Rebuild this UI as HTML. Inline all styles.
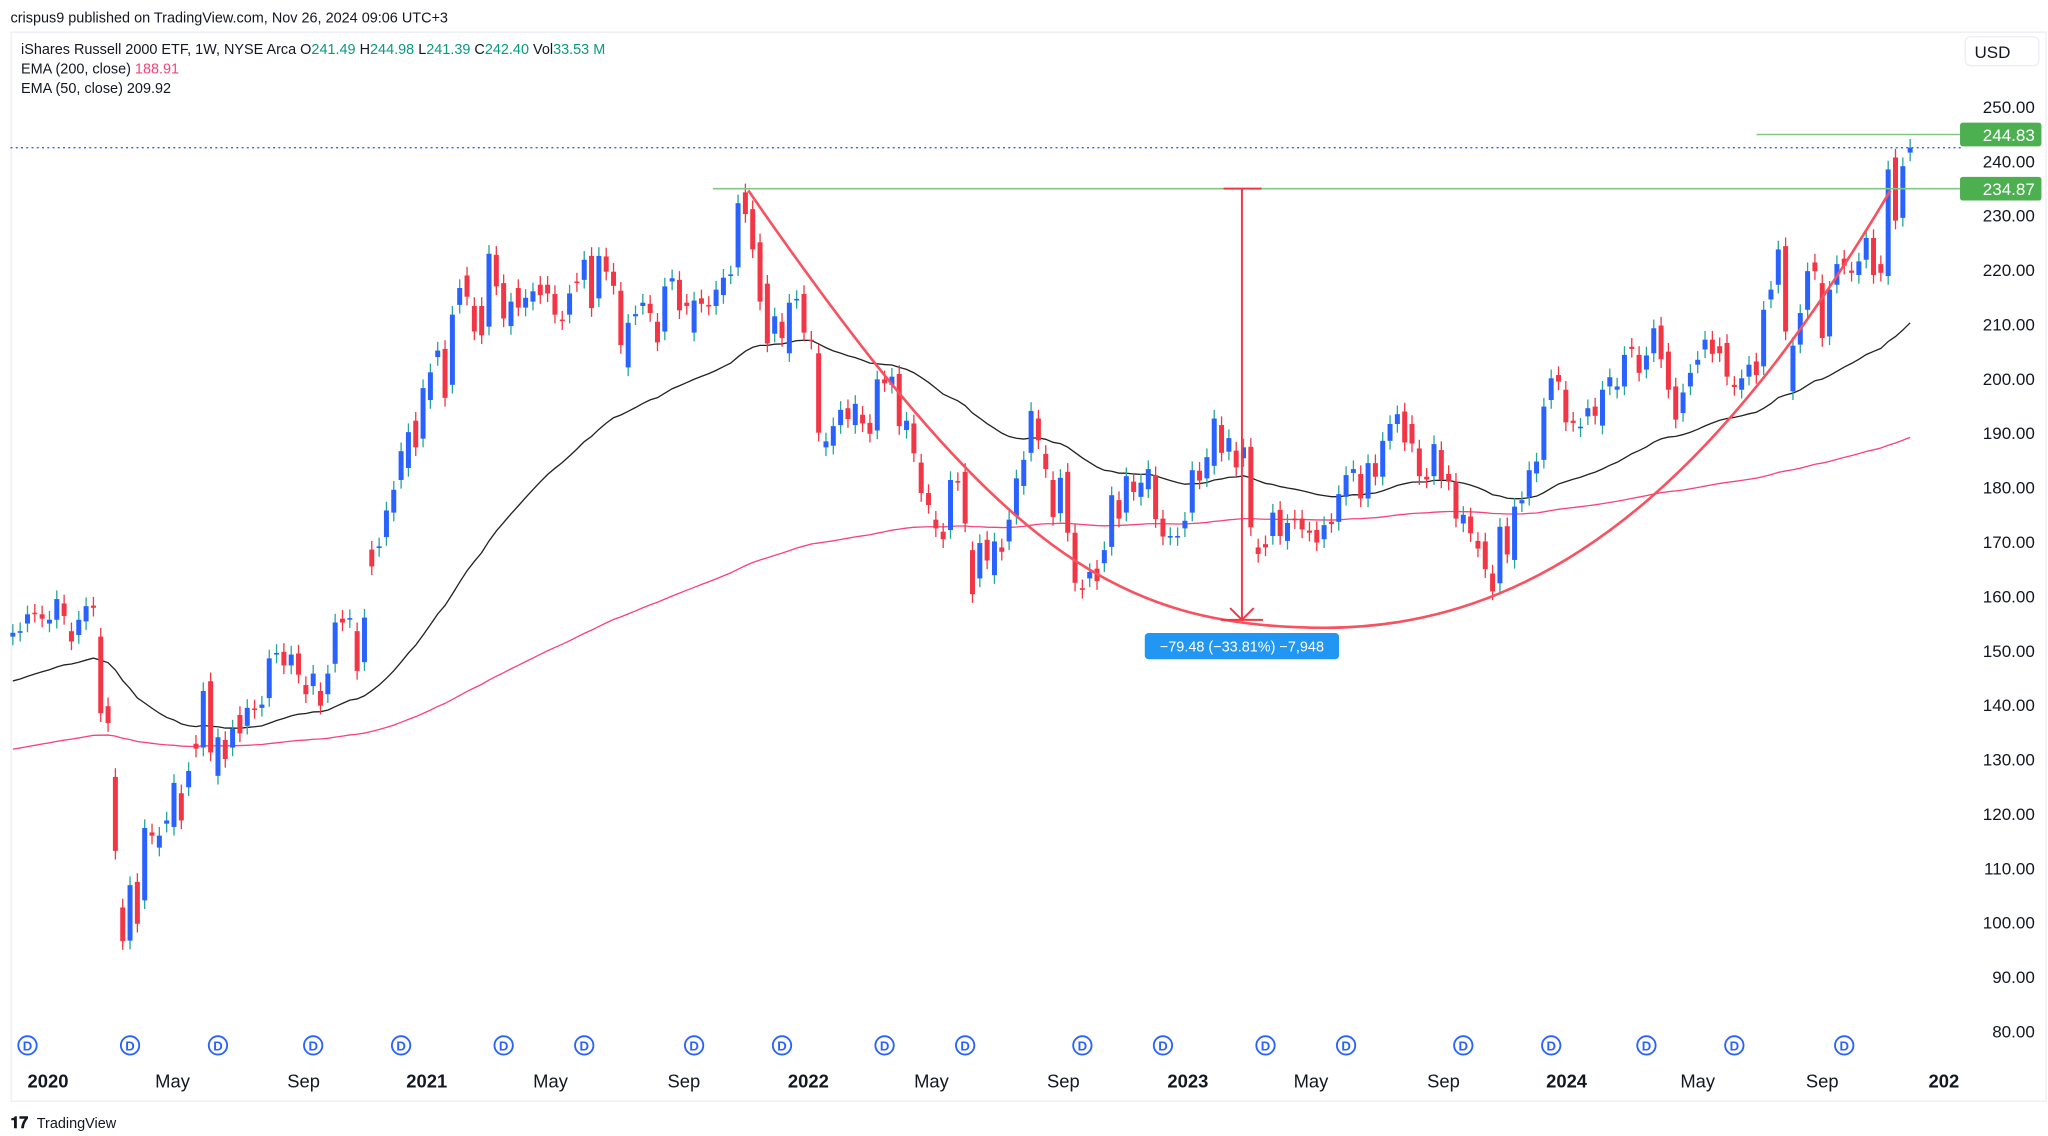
<!DOCTYPE html>
<html><head><meta charset="utf-8"><style>
html,body{margin:0;padding:0;background:#fff;}
svg{display:block;}
text{font-family:"Liberation Sans",sans-serif;}
</style></head><body>
<svg id="chart" width="2048" height="1136" viewBox="0 0 1560 865" preserveAspectRatio="none" xmlns="http://www.w3.org/2000/svg">
<rect x="0" y="0" width="1560" height="865" fill="#fff"/>
<text x="8" y="17" font-size="11" fill="#131722">crispus9 published on TradingView.com, Nov 26, 2024 09:06 UTC+3</text>
<rect x="8.5" y="24.5" width="1550" height="814" fill="none" stroke="#eceef2"/>
<g id="grid"></g>
<g id="lines"></g>
<g id="candles"></g>
<g id="annot"></g>
<g font-size="11" fill="#131722">
<text x="16" y="41">iShares Russell 2000 ETF, 1W, NYSE Arca  O<tspan fill="#089981">241.49</tspan>  H<tspan fill="#089981">244.98</tspan>  L<tspan fill="#089981">241.39</tspan>  C<tspan fill="#089981">242.40</tspan>  Vol<tspan fill="#089981">33.53 M</tspan></text>
<text x="16" y="56">EMA (200, close)  <tspan fill="#f7437a">188.91</tspan></text>
<text x="16" y="71">EMA (50, close)  <tspan>209.92</tspan></text>
</g>
<rect x="1497" y="28" width="56" height="22" rx="4" fill="#fff" stroke="#eceef2"/>
<text x="1504" y="44" font-size="13" fill="#131722">USD</text>
<g id="axes"></g>
<g>
<text x="8" y="859" font-size="12" font-weight="bold" fill="#131722">𝟏𝟕</text>
<text x="28" y="859" font-size="11" fill="#131722">TradingView</text>
</g>
</svg>
<script>
const opens=[152.5,153.2,154.9,156.9,156.6,154.9,155.6,158.6,153.5,152.8,155.3,158.2,152.5,139.7,126.7,102.7,96.6,107.4,104,116.5,113.7,118.1,117.5,123.7,124.8,132.8,132.1,144.3,126.9,133.5,132.1,138.1,136.1,139.3,139.4,141.2,149.2,149.7,147.2,149.4,143.6,143.4,142.5,141.9,147.5,155.8,155.7,153.5,147.8,168.5,168.8,170.8,175.3,181.3,183.5,192.2,188.9,196,203.9,205.4,198.8,213.5,218.9,213.3,213.3,209.5,222.7,217.5,209.6,216.6,213,214.1,217.2,217.2,215.5,210.8,211.7,217.8,218.1,222.5,214.7,222.4,219.6,216.1,202,211.4,213.3,213.7,210.4,208.6,217.8,218.1,213.9,208.4,214.7,213.5,213.3,215.3,218.9,220.4,234.2,231.1,225,217.4,208.2,210.4,204.6,214.4,215.5,207.1,204.6,187.3,187.6,191.4,194.5,191.4,193.3,191.8,190.4,199.8,198.8,200.8,190.5,191.7,184.5,178.9,174,171.8,172.1,181.1,182.8,168.4,163.2,170.3,163.8,168.9,170,174.7,180.2,186.3,192.6,186.1,181.3,175.2,182.8,171.6,161.4,163.2,165,166,169,177.6,175.3,181,178.2,179.6,182.2,174.2,170.9,170.8,172.4,175.3,183,181.6,183.9,191.4,186.5,186.7,185.3,187.4,168.9,169.5,171,175.8,170.1,174.2,174.2,172,172.1,170.4,173.6,173.6,178.2,182.6,182.4,177.9,184.4,181.9,188.5,191.6,193.9,191.6,187.1,181.9,182,186.8,182.4,181,173.3,174.6,170.1,170,164.1,162.3,172.8,166.6,177,178.2,182.5,185,196,200.6,197.9,192.2,190.8,193,194.8,191.3,198.5,197.9,198.5,205.8,204.3,201.6,204.6,209.7,204.9,198.5,193.6,198.5,202.5,205.3,207.1,205.9,206.5,198.8,197.9,200.3,203.1,202.2,214.5,217.2,224.3,197.6,206.2,212.6,221.3,217.5,207.7,217.2,222,219.8,219,221.8,225.8,221,218.8,240.6,229.5,241.5];
const closes=[153.2,153.5,156.6,156.7,155.8,155.6,159.4,156.3,151.6,155.6,158.1,157.8,138.4,136.6,113.1,96.5,106.8,99.7,117.3,115.9,115.9,118.7,125.6,118.7,127.8,131.9,142.5,131.2,134,130,135.6,134.7,139.4,139.0,140,148.5,149.5,147.2,149.2,145.5,141.9,145.7,139.8,145.7,155.1,155.1,155.9,146.2,156,165.4,169.1,175.7,179.5,186.6,190.1,187.3,198.2,201.1,205.1,196.4,211.7,216.6,215,208.6,207.9,222.9,216.9,211,214.1,213,214.8,216,215.3,215.6,211.7,210.5,215.6,217.5,221.8,212.9,222.5,219.6,217,206.1,210.2,211.8,213.9,212,206.6,216.9,218.4,212.5,213.3,214.3,213.7,213.2,216.3,218.5,219.1,232.2,230.2,223.7,214.1,206.4,211.4,207.4,213.9,214.6,208.4,206.9,190,188.4,191.2,194.2,192.5,195.3,191.7,189.8,199.8,199.1,200.3,191.2,192.2,186.2,178.9,176.7,172.4,170.4,181.3,180.9,173.3,160.3,169.7,166.5,170,168.1,174,181.6,185,194,188.6,183.3,174.5,181.7,171.6,162.4,161.1,164.4,162.7,168.4,178.5,174.2,182,179.1,180.8,183.3,174.1,170.9,171.0,171.0,173.8,183.1,181.2,185.5,192.6,186.3,189,183.6,187.3,172.6,167.7,168.9,175.3,171,173.4,173.9,172.2,171.6,169.8,173,173.2,178.7,182.2,183.3,177.9,184.4,181.9,188.5,191.6,193.4,188.2,188,182,181.4,187.9,181.4,181,174.2,174.9,171.5,168.7,164.9,160.8,172.7,167.6,176.4,177.6,183.1,184.7,194.8,200,199.4,191.9,191.8,191.1,194.5,193.1,197.9,200.2,198.5,204.3,205.4,201,204.2,209.2,203.5,197.9,192.4,197.4,201,203.4,207.1,204.5,204.6,200.3,198.4,200,202.5,200.6,212.6,216.3,223.7,208.6,206,212,219.7,219.7,207.4,216.3,221,220.7,219.4,221.5,225.8,219,219.4,238.4,229,239,242.4];
const priceTicks=[250,240,230,220,210,200,190,180,170,160,150,140,130,120,110,100,90,80];
const timeLabels=["2020","May","Sep","2021","May","Sep","2022","May","Sep","2023","May","Sep","2024","May","Sep","202"];
const timeLabelIdx=[4.8,21.8,39.7,56.5,73.4,91.6,108.6,125.4,143.4,160.4,177.2,195.3,212.1,230,247,263.6];
const dividendIdx=[2,16,28,41,53,67,78,93,105,119,130,146,157,171,182,198,210,223,235,250];
const ema50Seed=144, ema200Seed=131.6;
const levelA=234.87, levelB=244.83, lastClose=242.4;

const NS="http://www.w3.org/2000/svg";
const N=closes.length;
function xAt(i){return 1455-(N-1-i)*5.58;}
function yAt(p){return 81+(250-p)*4.141;}
function mk(tag,attrs,parent){const e=document.createElementNS(NS,tag);for(const k in attrs)e.setAttribute(k,attrs[k]);parent.appendChild(e);return e;}

const axes=document.getElementById('axes');
priceTicks.forEach(p=>{
  const t=mk('text',{x:1550,y:yAt(p)+5,'font-size':13,fill:'#131722','text-anchor':'end'},axes);
  
  
  t.textContent=p.toFixed(2);
});
timeLabels.forEach((l,k)=>{
  const bold=/^\d/.test(l);
  const t=mk('text',{x:xAt(timeLabelIdx[k]),y:828,'font-size':14,fill:'#131722','text-anchor':'middle','font-weight':bold?'bold':'normal'},axes);
  
  
  t.textContent=l;
});
dividendIdx.forEach(i=>{
  const g=mk('g',{},axes);
  
  
  mk('circle',{cx:xAt(i),cy:796,r:7,fill:'#fff',stroke:'#2962ff','stroke-width':1.4},g);
  const t=mk('text',{x:xAt(i),y:800,'font-size':10,fill:'#2962ff','text-anchor':'middle','font-weight':'bold'},g);
  t.textContent='D';
});

// EMA lines
const lines=document.getElementById('lines');
function ema(seed,n){const a=2/(n+1);let v=seed;return closes.map(c=>(v=v+a*(c-v)));}
const e50=ema(ema50Seed,50), e200=ema(ema200Seed,200);
function pathOf(arr){return arr.map((v,i)=>(i?'L':'M')+xAt(i).toFixed(1)+','+yAt(v).toFixed(1)).join('');}
const l200=mk('path',{d:pathOf(e200),fill:'none',stroke:'#f7437a','stroke-width':1},lines);


const l50=mk('path',{d:pathOf(e50),fill:'none',stroke:'#222','stroke-width':1},lines);



// candles
const cg=document.getElementById('candles');
for(let i=0;i<N;i++){
  const o=opens[i],c=closes[i],up=c>=o;
  const hi=Math.max(o,c)+1.6,lo=Math.min(o,c)-1.6;
  const x=xAt(i);
  const g=mk('g',{},cg);
  
  
  mk('line',{x1:x,x2:x,y1:yAt(hi),y2:yAt(lo),stroke:up?'#26a69a':'#f23645','stroke-width':1},g);
  const top=yAt(Math.max(o,c)),h=Math.max(1.2,yAt(Math.min(o,c))-top);
  mk('rect',{x:x-1.9,y:top,width:3.8,height:h,fill:up?'#2962ff':'#f23645'},g);
}

// annotations
const an=document.getElementById('annot');
const dl=mk('line',{x1:8,x2:1495,y1:yAt(lastClose),y2:yAt(lastClose),stroke:'#2962ff','stroke-width':1,'stroke-dasharray':'1.5 2.5'},an);


const la=mk('line',{x1:543,x2:1495,y1:yAt(levelA),y2:yAt(levelA),stroke:'#81c784','stroke-width':1.2},an);


const lb=mk('line',{x1:1338,x2:1495,y1:yAt(levelB),y2:yAt(levelB),stroke:'#81c784','stroke-width':1.2},an);


[levelB,levelA].forEach(v=>{
  const g=mk('g',{},an);
  
  
  mk('rect',{x:1493,y:yAt(v)-9,width:62,height:18,fill:'#4caf50',rx:2},g);
  const t=mk('text',{x:1550,y:yAt(v)+5,'font-size':13,fill:'#fff','text-anchor':'end'},g);
  t.textContent=v.toFixed(2);
});
const cup=mk('path',{d:'M570,145 C760,420 850,478 1010,478 C1200,478 1330,330 1440,145',fill:'none',stroke:'#f7525f','stroke-width':2},an);


const mg=mk('g',{stroke:'#f23645','stroke-width':1.5,fill:'none'},an);


mk('line',{x1:946,x2:946,y1:yAt(levelA),y2:472},mg);
mk('line',{x1:932,x2:961,y1:yAt(levelA),y2:yAt(levelA)},mg);
mk('line',{x1:930,x2:962,y1:472,y2:472},mg);
mk('path',{d:'M937,463 L946,472 L955,463'},mg);
const mb=mk('g',{},an);


mk('rect',{x:872,y:482,width:148,height:20,rx:3,fill:'#2196f3'},mb);
const mt=mk('text',{x:946,y:496,'font-size':11,fill:'#fff','text-anchor':'middle'},mb);
mt.textContent='−79.48 (−33.81%) −7,948';
</script>
</body></html>
